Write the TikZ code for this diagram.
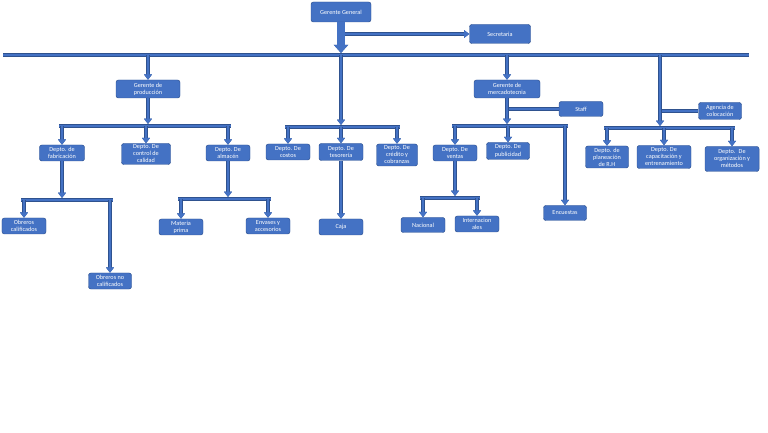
\documentclass[tikz,border=0pt]{standalone}
\usepackage{fontspec}
\setmainfont{Carlito}
\usetikzlibrary{arrows.meta, calc}
\definecolor{boxc}{HTML}{4472C4}
\definecolor{edgec}{HTML}{2F528F}
\tikzset{
  box/.style={draw=edgec, rounded corners=2pt, fill=boxc, text=white,
              minimum width=#1, minimum height=0.48cm, align=center,
              inner sep=0.5pt, font=\fontsize{5.3}{6}\selectfont},
  box/.default=1.32cm,
  conn/.style={draw=boxc, line width=2.3pt, preaction={draw=edgec, line width=3.8pt}},
  down/.style={conn, -{Triangle[width=6.5pt,length=4.5pt]}},
  bigconn/.style={draw=boxc, line width=6pt, preaction={draw=edgec, line width=7.4pt},
                  -{Triangle[width=12pt,length=7pt]}},
}

\begin{document}
\begin{tikzpicture}[x=0.03cm, y=-0.03cm]
  \useasboundingbox (0,0) rectangle (768,433);
  % top level
  \node[box=1.8cm, minimum height=0.6cm] (gg) at (341,12) {Gerente General};
  \node[box=1.83cm, minimum height=0.57cm] (sec) at (500,34) {Secretaria};
  \coordinate (barL) at (3,55);
  \coordinate (barR) at (749,55);
  % managers
  \node[box=1.92cm, minimum height=0.54cm] (gp) at (148,89) {Gerente de\\producción};
  \node[box=1.98cm, minimum height=0.54cm] (gm) at (507,89) {Gerente de\\mercadotecnia};
  \node[box=1.32cm, minimum height=0.45cm] (staff) at (581,109) {Staff};
  \node[box=1.29cm, minimum height=0.51cm] (age) at (720,111) {Agencia de\\colocación};
  % departments
  \node[box=1.35cm] (fab) at (62,153) {Depto. de\\fabricación};
  \node[box=1.47cm, minimum height=0.63cm] (cal) at (146,154) {Depto. De\\control de\\calidad};
  \node[box] (alm) at (228,153) {Depto. De\\almacén};
  \node[box] (cos) at (288,152) {Depto. De\\costos};
  \node[box, minimum height=0.51cm] (tes) at (341,152) {Depto. De\\tesorería};
  \node[box=1.23cm, minimum height=0.66cm] (cre) at (397,155) {Depto. De\\crédito y\\cobranzas};
  \node[box] (ven) at (455,153) {Depto. De\\ventas};
  \node[box=1.29cm, minimum height=0.51cm] (pub) at (508,151) {Depto. De\\publicidad};
  \node[box=1.29cm, minimum height=0.45cm] (enc) at (565,213) {Encuestas};
  \node[box=1.29cm, minimum height=0.66cm] (pla) at (607,157) {Depto. de\\planeación\\de R.H};
  \node[box=1.62cm, minimum height=0.69cm] (cap) at (664,157) {Depto. De\\capacitación y\\entrenamiento};
  \node[box=1.62cm, minimum height=0.75cm] (org) at (732,159) {Depto.~ De\\organización y\\métodos};
  % third level
  \node[box] (ob1) at (24,226) {Obreros\\calificados};
  \node[box=1.29cm] (ob2) at (110,281) {Obreros no\\calificados};
  \node[box] (mat) at (181,227) {Materia\\prima};
  \node[box] (env) at (268,226) {Envases y\\accesorios};
  \node[box] (caja) at (341,227) {Caja};
  \node[box, minimum height=0.45cm] (nac) at (423,225) {Nacional};
  \node[box] (int) at (477,224) {Internacion\\ales};

  % bar heights
  \coordinate (pB) at (0,126);
  \coordinate (cB) at (0,127);
  \coordinate (mB) at (0,126);
  \coordinate (rB) at (0,128);
  \coordinate (fB) at (0,200);
  \coordinate (aB) at (0,199);
  \coordinate (vB) at (0,198);
  \coordinate (rTop) at (660,55);

  % main bar and general manager
  \draw[conn] (barL) -- (barR);
  \draw[down] (gg.south |- sec.west) -- (sec);
  \draw[bigconn] (gg) -- ($(gg |- barL)+(0,-2)$);

  % production
  \draw[down] (gp |- barL) -- (gp);
  \draw[down] (gp) -- ($(gp |- pB)+(0,-2)$);
  \draw[conn] ($(fab |- pB)+(-3,0)$) -- ($(alm |- pB)+(3,0)$);
  \foreach \n in {fab,cal,alm}
    \draw[down] (\n |- pB) -- (\n);

  % finance
  \draw[down] (tes |- barL) -- ($(tes |- cB)+(0,-2)$);
  \draw[conn] ($(cos |- cB)+(-3,0)$) -- ($(cre |- cB)+(3,0)$);
  \foreach \n in {cos,tes,cre}
    \draw[down] (\n |- cB) -- (\n);

  % marketing
  \draw[down] (gm |- barL) -- (gm);
  \draw[conn] (gm |- staff) -- (staff);
  \draw[down] (gm) -- ($(gm |- mB)+(0,-2)$);
  \draw[conn] ($(ven |- mB)+(-3,0)$) -- ($(enc |- mB)+(3,0)$);
  \foreach \n in {ven,pub,enc}
    \draw[down] (\n |- mB) -- (\n);

  % personnel
  \draw[conn] (rTop |- age) -- (age);
  \draw[down] (rTop) -- ($(rTop |- rB)+(0,-2)$);
  \draw[conn] ($(pla |- rB)+(-3,0)$) -- ($(org |- rB)+(3,0)$);
  \foreach \n in {pla,cap,org}
    \draw[down] (\n |- rB) -- (\n);

  % third level
  \draw[down] (fab) -- ($(fab |- fB)+(0,-2)$);
  \draw[conn] ($(ob1 |- fB)+(-3,0)$) -- ($(ob2 |- fB)+(3,0)$);
  \foreach \n in {ob1,ob2}
    \draw[down] (\n |- fB) -- (\n);
  \draw[down] (alm) -- ($(alm |- aB)+(0,-2)$);
  \draw[conn] ($(mat |- aB)+(-3,0)$) -- ($(env |- aB)+(3,0)$);
  \foreach \n in {mat,env}
    \draw[down] (\n |- aB) -- (\n);
  \draw[down] (tes) -- (caja);
  \draw[down] (ven) -- ($(ven |- vB)+(0,-2)$);
  \draw[conn] ($(nac |- vB)+(-3,0)$) -- ($(int |- vB)+(3,0)$);
  \foreach \n in {nac,int}
    \draw[down] (\n |- vB) -- (\n);
\end{tikzpicture}
\end{document}
